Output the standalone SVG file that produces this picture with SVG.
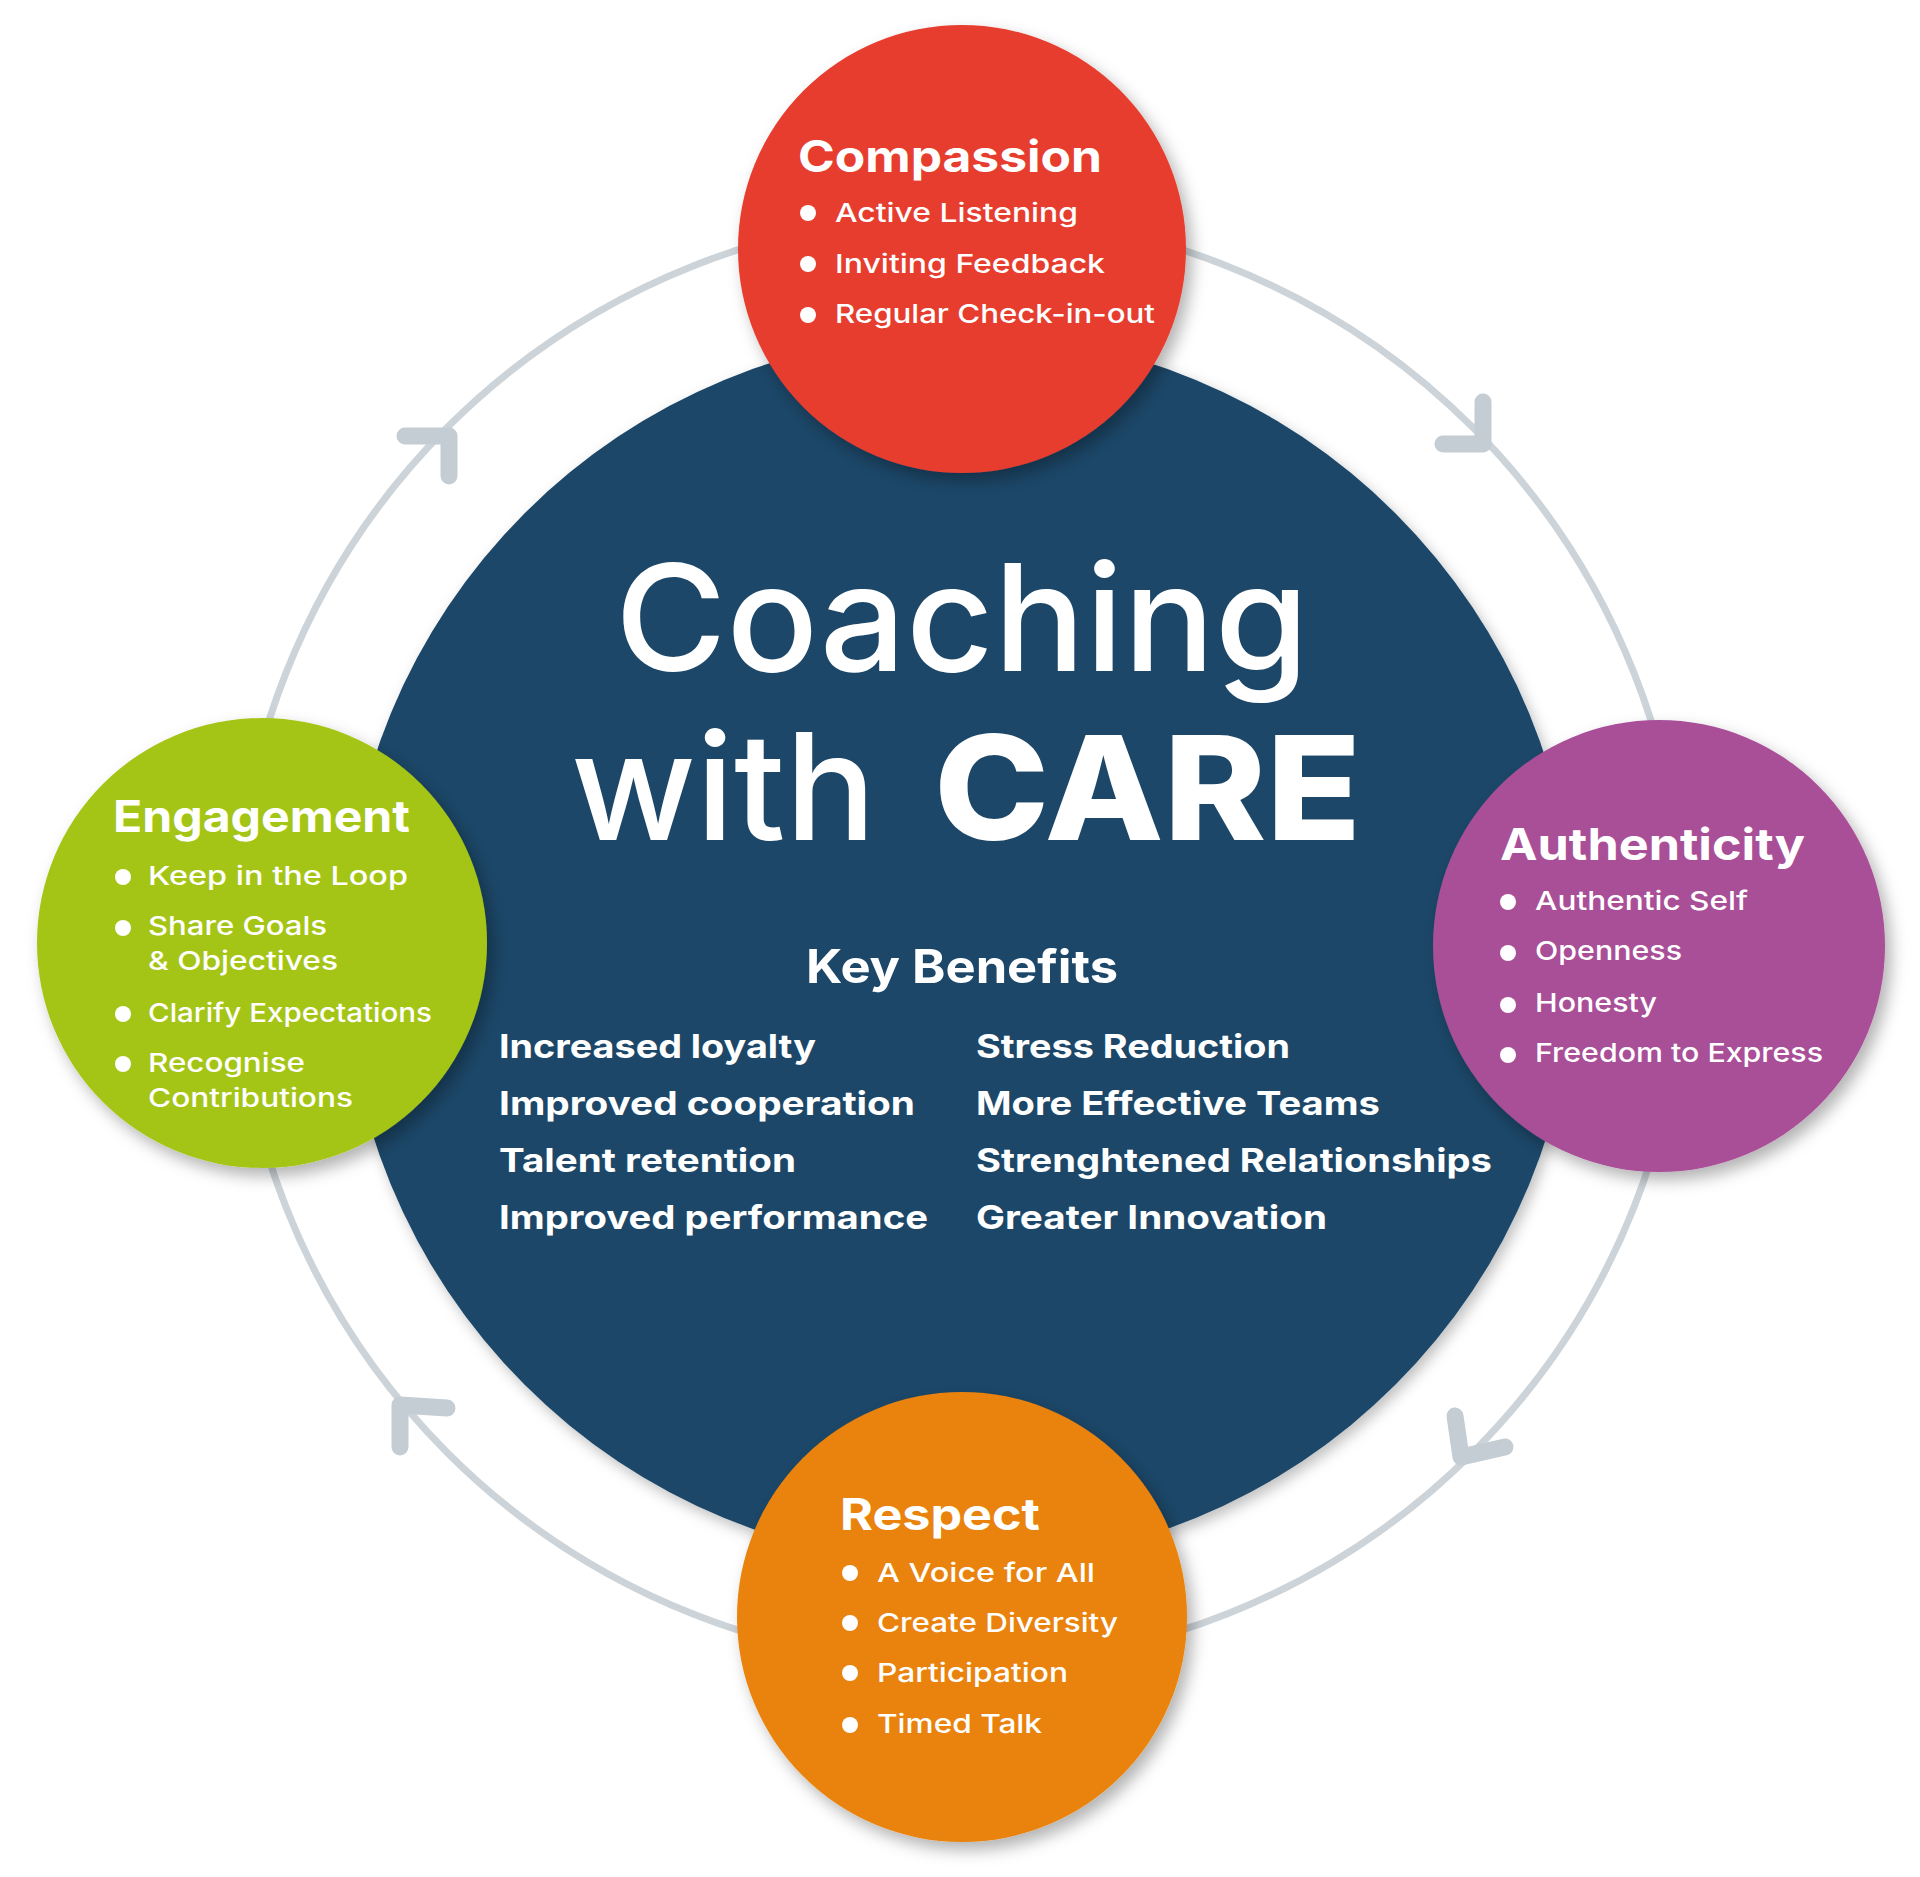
<svg xmlns="http://www.w3.org/2000/svg" width="1920" height="1877" viewBox="0 0 1920 1877">
<style>
text{font-family:"Inter","Lato","Liberation Sans",sans-serif;fill:#ffffff}
.ttl{font-size:44px;font-weight:700}
.bul{font-size:26px;font-weight:500}
.ben{font-size:33px;font-weight:700}
.dot{fill:#ffffff}
.ring{fill:none;stroke:#cdd4d9;stroke-width:7}
.arr{fill:none;stroke:#c4cdd3;stroke-width:17;stroke-linecap:round;stroke-linejoin:round}
</style>
<defs>
<filter id="sh" x="-20%" y="-20%" width="140%" height="140%">
<feDropShadow dx="6" dy="8" stdDeviation="8" flood-color="#000000" flood-opacity="0.3"/>
</filter>
<filter id="shb" x="-10%" y="-10%" width="120%" height="120%">
<feDropShadow dx="4" dy="6" stdDeviation="7" flood-color="#000000" flood-opacity="0.25"/>
</filter>
</defs>
<rect width="1920" height="1877" fill="#ffffff"/>
<g id="connectors">
<circle class="ring" cx="960" cy="940" r="725"/>
<polyline class="arr" points="405,436 449,436 449,476"/>
<polyline class="arr" points="1483,402 1483,444 1443,444"/>
<polyline class="arr" points="1455,1416 1461,1457 1505,1447"/>
<polyline class="arr" points="400,1447 400,1405 447,1408"/>
</g>
<g id="center">
<circle cx="960" cy="949" r="616" fill="#1a4668" filter="url(#shb)"/>
<text x="615" y="671" font-size="148" font-weight="500" textLength="694" lengthAdjust="spacingAndGlyphs">Coaching</text>
<text x="571" y="840" font-size="148" font-weight="500" textLength="305" lengthAdjust="spacingAndGlyphs">with</text>
<text x="934" y="840" font-size="145" font-weight="800" textLength="427" lengthAdjust="spacingAndGlyphs">CARE</text>
<text x="806" y="983" font-size="46" font-weight="700" textLength="312" lengthAdjust="spacingAndGlyphs">Key Benefits</text>
<text class="ben" x="499" y="1058" textLength="317" lengthAdjust="spacingAndGlyphs">Increased loyalty</text>
<text class="ben" x="499" y="1115" textLength="416" lengthAdjust="spacingAndGlyphs">Improved cooperation</text>
<text class="ben" x="499" y="1172" textLength="297" lengthAdjust="spacingAndGlyphs">Talent retention</text>
<text class="ben" x="499" y="1229" textLength="429" lengthAdjust="spacingAndGlyphs">Improved performance</text>
<text class="ben" x="976" y="1058" textLength="314" lengthAdjust="spacingAndGlyphs">Stress Reduction</text>
<text class="ben" x="976" y="1115" textLength="404" lengthAdjust="spacingAndGlyphs">More Effective Teams</text>
<text class="ben" x="976" y="1172" textLength="516" lengthAdjust="spacingAndGlyphs">Strenghtened Relationships</text>
<text class="ben" x="976" y="1229" textLength="351" lengthAdjust="spacingAndGlyphs">Greater Innovation</text>
</g>
<g id="compassion">
<circle cx="962" cy="249" r="224" fill="#e63e2f" filter="url(#sh)"/>
<text class="ttl" x="798" y="172" textLength="304" lengthAdjust="spacingAndGlyphs">Compassion</text>
<circle class="dot" cx="808" cy="213" r="8"/>
<text class="bul" x="835" y="222" textLength="243" lengthAdjust="spacingAndGlyphs">Active Listening</text>
<circle class="dot" cx="808" cy="264" r="8"/>
<text class="bul" x="835" y="273" textLength="270" lengthAdjust="spacingAndGlyphs">Inviting Feedback</text>
<circle class="dot" cx="808" cy="315" r="8"/>
<text class="bul" x="835" y="323" textLength="320" lengthAdjust="spacingAndGlyphs">Regular Check-in-out</text>
</g>
<g id="engagement">
<circle cx="262" cy="943" r="225" fill="#a5c517" filter="url(#sh)"/>
<text class="ttl" x="113" y="832" textLength="297" lengthAdjust="spacingAndGlyphs">Engagement</text>
<circle class="dot" cx="123" cy="877" r="8"/>
<text class="bul" x="148" y="885" textLength="260" lengthAdjust="spacingAndGlyphs">Keep in the Loop</text>
<circle class="dot" cx="123" cy="928" r="8"/>
<text class="bul" x="148" y="935" textLength="179" lengthAdjust="spacingAndGlyphs">Share Goals</text>
<text class="bul" x="148" y="970" textLength="190" lengthAdjust="spacingAndGlyphs">&amp; Objectives</text>
<circle class="dot" cx="123" cy="1014" r="8"/>
<text class="bul" x="148" y="1022" textLength="284" lengthAdjust="spacingAndGlyphs">Clarify Expectations</text>
<circle class="dot" cx="123" cy="1064" r="8"/>
<text class="bul" x="148" y="1072" textLength="157" lengthAdjust="spacingAndGlyphs">Recognise</text>
<text class="bul" x="148" y="1107" textLength="205" lengthAdjust="spacingAndGlyphs">Contributions</text>
</g>
<g id="authenticity">
<circle cx="1659" cy="946" r="226" fill="#a94f98" filter="url(#sh)"/>
<text class="ttl" x="1500" y="860" textLength="305" lengthAdjust="spacingAndGlyphs">Authenticity</text>
<circle class="dot" cx="1508" cy="902" r="8"/>
<text class="bul" x="1535" y="910" textLength="213" lengthAdjust="spacingAndGlyphs">Authentic Self</text>
<circle class="dot" cx="1508" cy="953" r="8"/>
<text class="bul" x="1535" y="960" textLength="147" lengthAdjust="spacingAndGlyphs">Openness</text>
<circle class="dot" cx="1508" cy="1005" r="8"/>
<text class="bul" x="1535" y="1012" textLength="122" lengthAdjust="spacingAndGlyphs">Honesty</text>
<circle class="dot" cx="1508" cy="1055" r="8"/>
<text class="bul" x="1535" y="1062" textLength="288" lengthAdjust="spacingAndGlyphs">Freedom to Express</text>
</g>
<g id="respect">
<circle cx="962" cy="1617" r="225" fill="#e9830c" filter="url(#sh)"/>
<text class="ttl" x="840" y="1530" textLength="200" lengthAdjust="spacingAndGlyphs">Respect</text>
<circle class="dot" cx="850" cy="1573" r="8"/>
<text class="bul" x="877" y="1582" textLength="218" lengthAdjust="spacingAndGlyphs">A Voice for All</text>
<circle class="dot" cx="850" cy="1623" r="8"/>
<text class="bul" x="877" y="1632" textLength="241" lengthAdjust="spacingAndGlyphs">Create Diversity</text>
<circle class="dot" cx="850" cy="1673" r="8"/>
<text class="bul" x="877" y="1682" textLength="191" lengthAdjust="spacingAndGlyphs">Participation</text>
<circle class="dot" cx="850" cy="1725" r="8"/>
<text class="bul" x="877" y="1733" textLength="165" lengthAdjust="spacingAndGlyphs">Timed Talk</text>
</g>
</svg>
